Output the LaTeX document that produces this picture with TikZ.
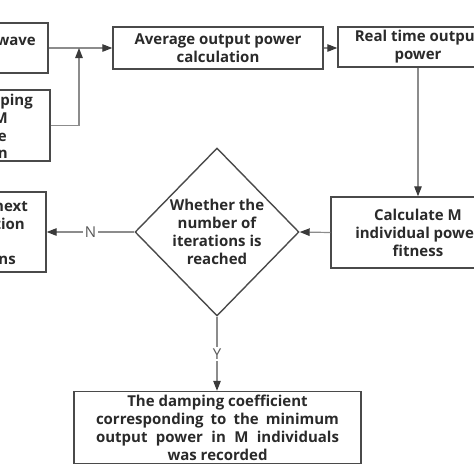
\documentclass[tikz,border=0pt]{standalone}
\usepackage{fontspec}
\setmainfont{Open Sans}
\usetikzlibrary{arrows.meta,shapes.geometric,calc}
\definecolor{txt}{HTML}{2A2A2A}
\definecolor{boxc}{HTML}{4A4A4A}
\definecolor{conc}{HTML}{8C8C8C}
\definecolor{arrc}{HTML}{3A3A3A}
\tikzset{
  boxnode/.style={draw=boxc, line width=1.4pt, rectangle, inner sep=0pt, text=txt,
    font=\bfseries\fontsize{15}{18}\selectfont, align=center},
  conn/.style={draw=conc, line width=1.2pt},
  arr/.style={conn, -{Triangle[length=10pt,width=7.5pt,color=arrc]}},
  frag/.style={inner sep=0pt, text=txt, font=\bfseries\fontsize{15}{18}\selectfont},
  lbl/.style={fill=white, inner sep=1.5pt, text=black!65, font=\fontsize{15}{16}\selectfont},
}
\begin{document}
\begin{tikzpicture}[x=1pt,y=-1pt]
\useasboundingbox (0,0) rectangle (474,474);
\clip (0,0) rectangle (474,474);
% boxes
\node[boxnode, minimum width=110pt, minimum height=50pt] (wave) at (-7,48) {};
\node[boxnode, minimum width=112pt, minimum height=71pt] (ping) at (-6,125.5) {};
\node[boxnode, minimum width=210pt, minimum height=42pt] (avg) at (218,48) {Average output power\\calculation};
\node[boxnode, minimum width=160pt, minimum height=40pt] (real) at (418,47) {Real time output\\power};
\node[boxnode, minimum width=174pt, minimum height=71pt] (calc) at (418,232.5) {Calculate M\\individual power\\fitness};
\node[draw=boxc, line width=1.4pt, diamond, minimum width=164pt, minimum height=168pt, inner sep=0pt] (dec) at (217,232) {};
\node[frag, align=center] (dectxt) at (dec.center) {Whether the\\number of\\iterations is\\reached};
\node[boxnode, minimum width=108pt, minimum height=80pt] (next) at (-8,232) {};
\node[boxnode, minimum width=287pt, minimum height=72pt] (rec) at (217.5,427.5) {The damping coefficient\\\makebox[243pt][s]{corresponding to the minimum}\\\makebox[243pt][s]{output power in M individuals}\\was recorded};
% cut-off text fragments
\node[frag, anchor=base east] (t1) at (36,45) {wave};
\node[frag, anchor=base east] (t2) at (33,105) {ping};
\node[frag, anchor=base east] (t3) at (8,123) {M};
\node[frag, anchor=base east] (t4) at (7,141) {e};
\node[frag, anchor=base east] (t5) at (8,158) {n};
\node[frag, anchor=base east] (t6) at (28,211) {next};
\node[frag, anchor=base east] (t7) at (25,229) {tion};
\node[frag, anchor=base east] (t8) at (16,264) {ns};
% connectors
\coordinate (j) at (79,48);
\draw[arr] (wave.east) -- (avg.west);
\draw[arr] (ping.east) -| (j);
\draw[arr] (avg.east) -- (avg.east -| real.west);
\draw[arr] (real.south) -- (calc.north);
\draw[arr] (calc.west) -- (dec.east);
\draw[arr] (dec.west) -- node[lbl] {N} (next.east);
\draw[arr] (dec.south) -- node[lbl] {Y} (dec.south |- rec.north);
\end{tikzpicture}
\end{document}
